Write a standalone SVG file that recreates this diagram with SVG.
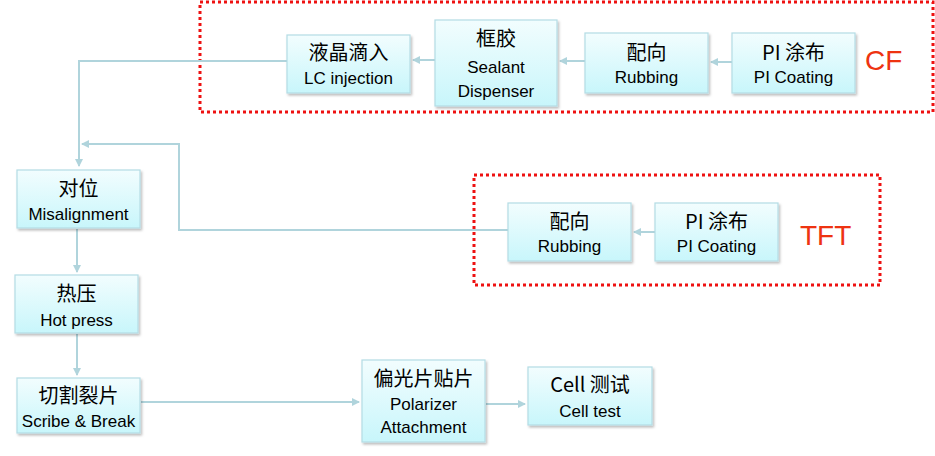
<svg xmlns="http://www.w3.org/2000/svg" width="935" height="456" viewBox="0 0 935 456">
<style>
.b{fill:url(#g);stroke:#b4dce4;stroke-width:1.2;filter:url(#s)}
.zh{font-family:"Noto Sans CJK SC","Liberation Sans",sans-serif;font-size:20px;fill:#000;text-anchor:middle}
.en{font-family:"Liberation Sans",Arial,sans-serif;font-size:17px;fill:#000;text-anchor:middle}
.c{fill:none;stroke:#b0d4dc;stroke-width:2;marker-end:url(#a)}
.grp{fill:none;stroke:#ee1111;stroke-width:3;stroke-dasharray:3 3}
.lbl{font-family:"Liberation Sans",Arial,sans-serif;font-size:28px;fill:#ee3311}
</style>
<defs>
<linearGradient id="g" x1="0" y1="0" x2="0" y2="1"><stop offset="0" stop-color="#f2fdfe"/><stop offset="1" stop-color="#c8f6fb"/></linearGradient>
<filter id="s" x="-10%" y="-10%" width="125%" height="130%"><feDropShadow dx="1.5" dy="2" stdDeviation="1.2" flood-color="#000" flood-opacity="0.25"/></filter>
<marker id="a" markerWidth="8" markerHeight="8" refX="7" refY="4" orient="auto" markerUnits="userSpaceOnUse"><path d="M0,0 L8,4 L0,8 z" fill="#b0d4dc"/></marker>
</defs>
<rect width="935" height="456" fill="#fff"/>
<rect class="grp" x="200" y="2" width="733" height="110"/>
<text class="lbl" x="865" y="70">CF</text>
<rect class="grp" x="474" y="175" width="406" height="110"/>
<text class="lbl" x="800" y="245">TFT</text>
<g id="connectors">
<path class="c" d="M287,61 H79 V166"/>
<path class="c" d="M508,230 H179 V144 H82"/>
<path class="c" d="M435,60 H413"/>
<path class="c" d="M585,61 H560"/>
<path class="c" d="M732,62 H711"/>
<path class="c" d="M655,232 H634"/>
<path class="c" d="M77,229 V272"/>
<path class="c" d="M77,334 V375"/>
<path class="c" d="M141,402 H359"/>
<path class="c" d="M486,404 H525"/>
</g>
<g id="n_lc"><rect class="b" x="287" y="35" width="123" height="58"/><text class="zh" x="348.5" y="60">液晶滴入</text><text class="en" x="348.5" y="84">LC injection</text></g>
<g id="n_seal"><rect class="b" x="435" y="20" width="122" height="86"/><text class="zh" x="496" y="46">框胶</text><text class="en" x="496" y="73">Sealant</text><text class="en" x="496" y="97">Dispenser</text></g>
<g id="n_rub_cf"><rect class="b" x="585" y="33" width="123" height="60"/><text class="zh" x="646.5" y="60">配向</text><text class="en" x="646.5" y="83">Rubbing</text></g>
<g id="n_pi_cf"><rect class="b" x="732" y="33" width="123" height="60"/><text class="zh" x="793.5" y="60">PI 涂布</text><text class="en" x="793.5" y="83">PI Coating</text></g>
<g id="n_rub_tft"><rect class="b" x="508" y="203" width="123" height="58"/><text class="zh" x="569.5" y="229">配向</text><text class="en" x="569.5" y="252">Rubbing</text></g>
<g id="n_pi_tft"><rect class="b" x="655" y="203" width="123" height="58"/><text class="zh" x="716.5" y="229">PI 涂布</text><text class="en" x="716.5" y="252">PI Coating</text></g>
<g id="n_align"><rect class="b" x="17" y="170" width="123" height="58"/><text class="zh" x="78.5" y="196">对位</text><text class="en" x="78.5" y="220">Misalignment</text></g>
<g id="n_hot"><rect class="b" x="15" y="275" width="123" height="58"/><text class="zh" x="76.5" y="301">热压</text><text class="en" x="76.5" y="326">Hot press</text></g>
<g id="n_scribe"><rect class="b" x="17" y="378" width="123" height="55"/><text class="zh" x="78.5" y="403">切割裂片</text><text class="en" x="78.5" y="427">Scribe &amp; Break</text></g>
<g id="n_pol"><rect class="b" x="362" y="360" width="123" height="82"/><text class="zh" x="423.5" y="386">偏光片贴片</text><text class="en" x="423.5" y="410">Polarizer</text><text class="en" x="423.5" y="433">Attachment</text></g>
<g id="n_cell"><rect class="b" x="528" y="367" width="124" height="58"/><text class="zh" x="590" y="392">Cell 测试</text><text class="en" x="590" y="417">Cell test</text></g>
</svg>
